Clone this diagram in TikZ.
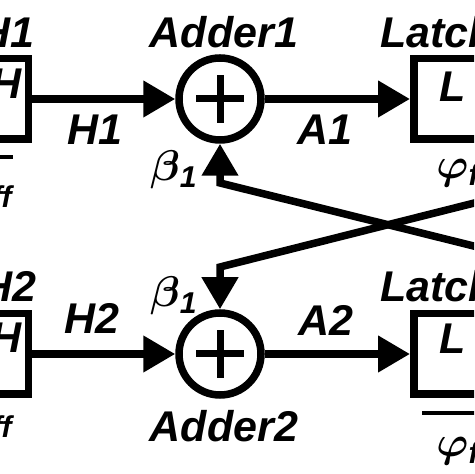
\documentclass[tikz,border=0pt]{standalone}
\usepackage{fix-cm}
\usepackage{fontspec}
\setsansfont{Liberation Sans}
\usetikzlibrary{arrows.meta}

\newcommand{\phiff}{{\boldmath$\varphi$}\textsubscript{ff}}
\newcommand{\betaone}{{\boldmath$\beta$}\textsubscript{1}}
\newcommand{\negbar}[1]{\vbox{\hrule height 1.75pt\kern 11pt\hbox{#1}}}

\begin{document}
\begin{tikzpicture}[x=0.5pt, y=0.5pt,
    wire/.style={line width=3.75pt},
    sig/.style={wire, -{Triangle[length=16pt, width=17.5pt]}},
    blk/.style={draw, rectangle, line width=3.75pt, minimum height=40.25pt, inner sep=0pt},
    adder/.style={draw, circle, line width=3.75pt, minimum size=41pt, inner sep=0pt,
        path picture={
            \draw[line width=3.5pt] ([xshift=-12pt]path picture bounding box.center) -- ([xshift=12pt]path picture bounding box.center)
                ([yshift=-12pt]path picture bounding box.center) -- ([yshift=12pt]path picture bounding box.center);}},
    lbl/.style={font=\sffamily\bfseries\itshape\fontsize{21.5}{24}\selectfont, inner sep=0pt}]
\useasboundingbox (0,0) rectangle (474,474);
\clip (0,0) rectangle (474,474);

    % upper path
    \node (hbox1) at (6,375) [blk, minimum width=22.25pt] {};
    \node (add1) at (220,375) [adder] {};
    \node (latch1) at (460,375) [blk, minimum width=46.25pt] {};
    \node (hsym1) at (6.5,390) [lbl] {H};
    \node (lsym1) at (453,387) [lbl] {L};

    % lower path
    \node (hbox2) at (6,120) [blk, minimum width=22.25pt] {};
    \node (add2) at (220,120) [adder] {};
    \node (latch2) at (460,120) [blk, minimum width=46.25pt] {};
    \node (hsym2) at (6.5,136) [lbl] {H};
    \node (lsym2) at (453,135) [lbl] {L};

    % names
    \node (hname1) at (35,426) [lbl, anchor=base east] {H1};
    \node (aname1) at (224,426) [lbl, anchor=base] {Adder1};
    \node (lname1) at (380,426) [lbl, anchor=base west] {Latch1};
    \node (hname2) at (37,172) [lbl, anchor=base east] {H2};
    \node (aname2) at (224,32) [lbl, anchor=base] {Adder2};
    \node (lname2) at (380,172) [lbl, anchor=base west] {Latch2};

    % clocks
    \node (clkh1) at (13,319) [lbl, anchor=north east] {\negbar{\phiff}};
    \node (clkh2) at (13,63) [lbl, anchor=north east] {\phiff};
    \node (clkl1) at (436,315) [lbl, anchor=north west] {\phiff};
    \node (clkl2) at (422,63) [lbl, anchor=north west] {\negbar{\kern7pt\phiff}};

    % signals
    \draw[sig] (hbox1) -- (add1);
    \draw[sig] (add1) -- (latch1);
    \draw[sig] (hbox2) -- (add2);
    \draw[sig] (add2) -- (latch2);
    \node (h1) at (95,329) [lbl, anchor=base] {H1};
    \node (a1) at (325,329) [lbl, anchor=base] {A1};
    \node (h2) at (92,140) [lbl, anchor=base] {H2};
    \node (a2) at (326,138) [lbl, anchor=base] {A2};

    % cross coupling
    \coordinate (in1) at (530,214);
    \coordinate (in2) at (530,285);
    \coordinate (c1) at (220,291);
    \coordinate (c2) at (220,207);
    \draw[sig] (in1) -- (c1) -- (add1);
    \draw[sig] (in2) -- (c2) -- (add2);
    \node (b1) at (198,304) [lbl, anchor=east] {\betaone};
    \node (b2) at (198,178) [lbl, anchor=east] {\betaone};

\end{tikzpicture}
\end{document}
